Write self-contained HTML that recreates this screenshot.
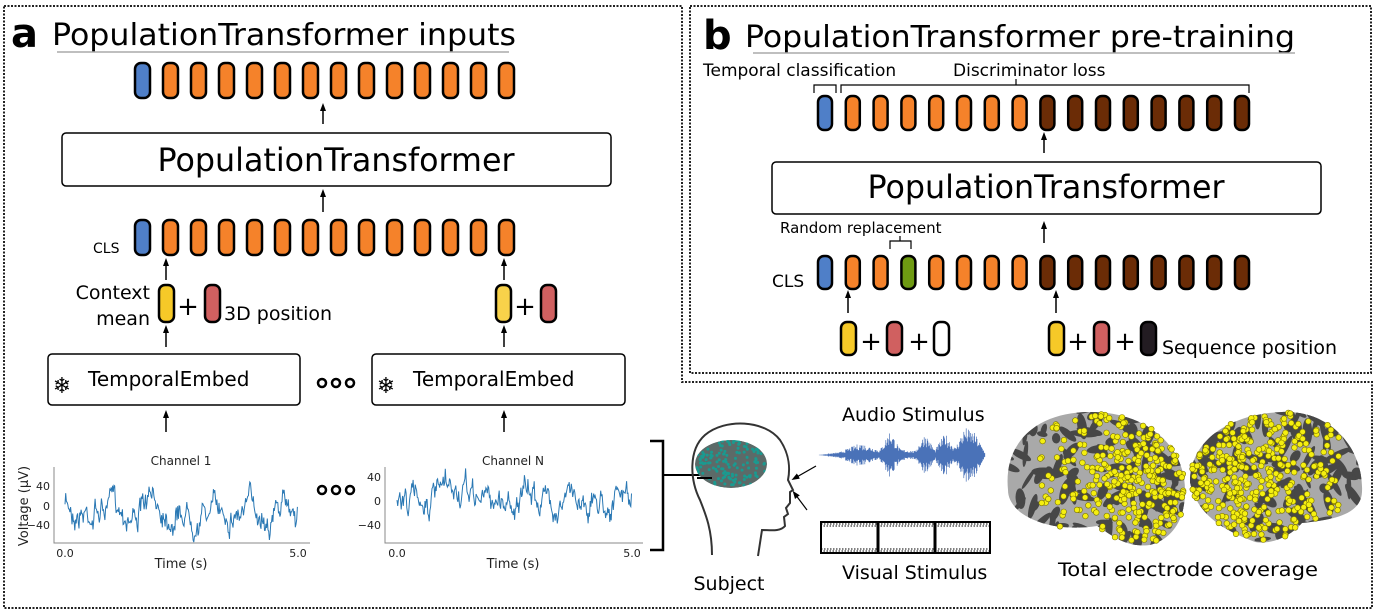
<!DOCTYPE html>
<html><head><meta charset="utf-8"><style>
html,body{margin:0;padding:0;background:#fff;}
svg{display:block;font-family:"DejaVu Sans","Liberation Sans",sans-serif;}
</style></head><body>
<svg id="s" width="1376" height="613" viewBox="0 0 1376 613" xmlns="http://www.w3.org/2000/svg">
<defs>
<marker id="ah" markerWidth="8" markerHeight="8" refX="4" refY="4" orient="auto" markerUnits="userSpaceOnUse">
<path d="M0,1 L8,4 L0,7 Z" fill="#000"/></marker>
<clipPath id="cb1"><path id="b1p" d="M1008,490 C1003,440 1040,411 1092,412 C1145,412 1186,445 1185,492 C1185,522 1170,540 1150,545 C1125,548 1112,535 1097,526 C1070,530 1040,527 1020,512 C1012,505 1008,498 1008,490 Z"/></clipPath>
<clipPath id="cb2"><path id="b2p" d="M1190,482 C1190,440 1230,414 1282,412 C1332,410 1364,450 1362,492 C1361,515 1332,520 1302,523 C1290,537 1270,545 1255,542 C1238,535 1198,522 1190,482 Z"/></clipPath>
<clipPath id="cbr"><ellipse cx="731" cy="464" rx="36" ry="24"/></clipPath>
</defs>
<g fill="none" stroke="#222" stroke-width="2" stroke-dasharray="2,1.5">
<path d="M4,6 H682 V382 H1372 V608 H4 Z"/>
<path d="M690,6 H1371 V373 H690 Z"/>
</g>

<!-- panel a -->
<text x="11" y="47" font-size="40" font-weight="bold">a</text>
<text x="52" y="45" font-size="30" textLength="464" lengthAdjust="spacingAndGlyphs">PopulationTransformer inputs</text>
<line x1="57" y1="52" x2="509" y2="52" stroke="#aaa" stroke-width="1.5"/>
<g id="aTop"></g>
<line x1="323" y1="124" x2="323" y2="107" stroke="#000" stroke-width="1.5" marker-end="url(#ah)"/>
<rect x="62" y="133" width="549" height="53" rx="4" fill="#fff" stroke="#000" stroke-width="1.5"/>
<text x="336" y="171" font-size="32" text-anchor="middle" textLength="357" lengthAdjust="spacingAndGlyphs">PopulationTransformer</text>
<line x1="323" y1="212" x2="323" y2="193" stroke="#000" stroke-width="1.5" marker-end="url(#ah)"/>
<text x="93" y="253" font-size="14">CLS</text>
<line x1="166" y1="280" x2="166" y2="262" stroke="#000" stroke-width="1.5" marker-end="url(#ah)"/>
<line x1="504" y1="280" x2="504" y2="262" stroke="#000" stroke-width="1.5" marker-end="url(#ah)"/>
<text x="150" y="299" font-size="19" text-anchor="end">Context</text>
<text x="150" y="325" font-size="19" text-anchor="end">mean</text>
<rect x="159" y="285" width="15" height="37" rx="6" fill="#f6c928" stroke="#000" stroke-width="2.5"/>
<text x="188" y="315" font-size="26" text-anchor="middle">+</text>
<rect x="205" y="285" width="15" height="37" rx="6" fill="#d06060" stroke="#000" stroke-width="2.5"/>
<text x="224" y="320" font-size="19">3D position</text>
<rect x="496" y="285" width="15" height="37" rx="6" fill="#f8d24a" stroke="#000" stroke-width="2.5"/>
<text x="525" y="315" font-size="26" text-anchor="middle">+</text>
<rect x="541" y="285" width="15" height="37" rx="6" fill="#d06060" stroke="#000" stroke-width="2.5"/>
<line x1="166" y1="347" x2="166" y2="329" stroke="#000" stroke-width="1.5" marker-end="url(#ah)"/>
<line x1="504" y1="347" x2="504" y2="329" stroke="#000" stroke-width="1.5" marker-end="url(#ah)"/>
<rect x="48" y="354" width="252" height="51" rx="4" fill="#fff" stroke="#000" stroke-width="1.5"/>
<rect x="372" y="354" width="253" height="51" rx="4" fill="#fff" stroke="#000" stroke-width="1.5"/>
<text x="88" y="386" font-size="20">TemporalEmbed</text>
<text x="413" y="386" font-size="20">TemporalEmbed</text>
<text x="62" y="393" font-size="22" text-anchor="middle">❄</text>
<text x="386" y="393" font-size="22" text-anchor="middle">❄</text>
<g fill="none" stroke="#000" stroke-width="2.5">
<circle cx="322" cy="383" r="4"/><circle cx="336" cy="383" r="4"/><circle cx="350" cy="383" r="4"/>
<circle cx="322" cy="490" r="4"/><circle cx="336" cy="490" r="4"/><circle cx="350" cy="490" r="4"/>
</g>
<line x1="166" y1="432" x2="166" y2="414" stroke="#000" stroke-width="1.5" marker-end="url(#ah)"/>
<line x1="504" y1="432" x2="504" y2="414" stroke="#000" stroke-width="1.5" marker-end="url(#ah)"/>

<!-- plots -->
<g font-size="11" fill="#222">
<text x="181" y="465" font-size="12" text-anchor="middle">Channel 1</text>
<path d="M54,467 V543 H310" fill="none" stroke="#888" stroke-width="1"/>
<text x="50" y="490" text-anchor="end">40</text><text x="50" y="510" text-anchor="end">0</text><text x="50" y="529" text-anchor="end">−40</text>
<text x="65" y="557" text-anchor="middle">0.0</text><text x="298" y="557" text-anchor="middle">5.0</text>
<text x="181" y="568" font-size="13" text-anchor="middle">Time (s)</text>
<text transform="translate(28,506) rotate(-90)" font-size="13" text-anchor="middle">Voltage (μV)</text>
<text x="513" y="465" font-size="12" text-anchor="middle">Channel N</text>
<path d="M385,467 V543 H643" fill="none" stroke="#888" stroke-width="1"/>
<text x="381" y="481" text-anchor="end">40</text><text x="381" y="505" text-anchor="end">0</text><text x="381" y="529" text-anchor="end">−40</text>
<text x="397" y="557" text-anchor="middle">0.0</text><text x="632" y="557" text-anchor="middle">5.0</text>
<text x="513" y="568" font-size="13" text-anchor="middle">Time (s)</text>
</g>
<g id="waves"></g>
<path d="M650,441 H663 V550 H650" fill="none" stroke="#000" stroke-width="2.5"/>
<line x1="663" y1="475" x2="705" y2="475" stroke="#000" stroke-width="2"/>

<!-- subject -->
<g clip-path="url(#cbr)"><ellipse cx="731" cy="464" rx="36" ry="24" fill="#5c6a68"/><g id="brainsm"></g></g>
<path d="M712,555 C712,530 706,515 700,500 C690,480 688,450 705,435 C725,418 765,420 780,440 C790,455 790,470 788,480 L793,490 L790,492 L790,503 L786,508 L788,514 L784,517 L785,526 C780,532 770,530 762,530 L758,556" fill="none" stroke="#333" stroke-width="2"/>
<line x1="712" y1="478" x2="697" y2="478" stroke="#000" stroke-width="2"/>
<text x="729" y="590" font-size="19" text-anchor="middle">Subject</text>
<line x1="816" y1="466" x2="795" y2="478" stroke="#000" stroke-width="1.2" marker-end="url(#ah)"/>
<line x1="807" y1="510" x2="795" y2="494" stroke="#000" stroke-width="1.2" marker-end="url(#ah)"/>
<text x="842" y="421" font-size="19">Audio Stimulus</text>
<g id="audio"></g>
<rect x="821" y="522" width="169" height="31" fill="#fff" stroke="#000" stroke-width="2"/>
<rect x="821" y="524" width="169" height="2" fill="none" stroke="#000" stroke-dasharray="1.5,1.5"/>
<rect x="821" y="549" width="169" height="2" fill="none" stroke="#000" stroke-dasharray="1.5,1.5"/>
<line x1="878" y1="522" x2="878" y2="553" stroke="#000" stroke-width="3"/>
<line x1="935" y1="522" x2="935" y2="553" stroke="#000" stroke-width="3"/>
<text x="842" y="579" font-size="19">Visual Stimulus</text>

<!-- brains -->
<use href="#b1p" fill="#a9a9a9"/>
<use href="#b2p" fill="#a9a9a9"/>
<g clip-path="url(#cb1)" id="p1"></g>
<g clip-path="url(#cb2)" id="p2"></g>
<g id="dots"></g>
<text x="1058" y="576" font-size="19" textLength="260" lengthAdjust="spacingAndGlyphs">Total electrode coverage</text>

<!-- panel b -->
<text x="703" y="49" font-size="40" font-weight="bold">b</text>
<text x="745" y="47" font-size="30" textLength="550" lengthAdjust="spacingAndGlyphs">PopulationTransformer pre-training</text>
<line x1="753" y1="53" x2="1295" y2="53" stroke="#aaa" stroke-width="1.5"/>
<text x="703" y="76" font-size="17">Temporal classification</text>
<text x="953" y="76" font-size="17">Discriminator loss</text>
<path d="M814,93 V85 H836 V93" fill="none" stroke="#000" stroke-width="1.2"/>
<path d="M841,93 V85 H1249 V93 M1016,85 V79" fill="none" stroke="#000" stroke-width="1.2"/>
<g id="bTop"></g>
<line x1="1044" y1="153" x2="1044" y2="136" stroke="#000" stroke-width="1.5" marker-end="url(#ah)"/>
<rect x="772" y="162" width="549" height="52" rx="4" fill="#fff" stroke="#000" stroke-width="1.5"/>
<text x="1046" y="198" font-size="32" text-anchor="middle" textLength="357" lengthAdjust="spacingAndGlyphs">PopulationTransformer</text>
<text x="780" y="233" font-size="15">Random replacement</text>
<path d="M890,249 V241 H911 V249 M900,241 V236" fill="none" stroke="#000" stroke-width="1.2"/>
<line x1="1044" y1="243" x2="1044" y2="225" stroke="#000" stroke-width="1.5" marker-end="url(#ah)"/>
<text x="772" y="287" font-size="17">CLS</text>
<g id="bBot"></g>
<line x1="848" y1="313" x2="848" y2="294" stroke="#000" stroke-width="1.5" marker-end="url(#ah)"/>
<line x1="1056" y1="313" x2="1056" y2="294" stroke="#000" stroke-width="1.5" marker-end="url(#ah)"/>
<rect x="841" y="322" width="15" height="33" rx="6" fill="#f6c928" stroke="#000" stroke-width="2.5"/>
<text x="871" y="350" font-size="26" text-anchor="middle">+</text>
<rect x="887" y="322" width="15" height="33" rx="6" fill="#d06060" stroke="#000" stroke-width="2.5"/>
<text x="919" y="350" font-size="26" text-anchor="middle">+</text>
<rect x="934" y="322" width="15" height="33" rx="6" fill="#fff" stroke="#000" stroke-width="2.5"/>
<rect x="1049" y="322" width="15" height="33" rx="6" fill="#f6c928" stroke="#000" stroke-width="2.5"/>
<text x="1078" y="350" font-size="26" text-anchor="middle">+</text>
<rect x="1094" y="322" width="15" height="33" rx="6" fill="#d06060" stroke="#000" stroke-width="2.5"/>
<text x="1125" y="350" font-size="26" text-anchor="middle">+</text>
<rect x="1141" y="322" width="15" height="33" rx="6" fill="#231c22" stroke="#000" stroke-width="2.5"/>
<text x="1162" y="354" font-size="19">Sequence position</text>
</svg>
<script>
var NS="http://www.w3.org/2000/svg";
var seed=7;function rnd(){seed=(seed*16807)%2147483647;return (seed-1)/2147483646;}
function el(p,t,a){var e=document.createElementNS(NS,t);for(var k in a)e.setAttribute(k,a[k]);document.getElementById(p).appendChild(e);return e;}
var OR="#f5822a",BL="#4f7fc8",BR="#6b2c06",GR="#6e9a12";
function tok(g,x,y,w,h,c){el(g,"rect",{x:x,y:y,width:w,height:h,rx:6,fill:c,stroke:"#000","stroke-width":2.5});}
for(var i=0;i<14;i++){tok("aTop",135+i*28,63,15,35,i?OR:BL);}
var s=document.getElementById("s");
var g=document.createElementNS(NS,"g");g.id="aMid";s.appendChild(g);
for(var i=0;i<14;i++){tok("aMid",135+i*28,220,15,35,i?OR:BL);}
for(var i=0;i<16;i++){var c=i==0?BL:(i<8?OR:BR);tok("bTop",818+i*27.8,96,14,34,c);}
for(var i=0;i<16;i++){var c=i==0?BL:(i==3?GR:(i<8?OR:BR));tok("bBot",818+i*27.8,256,14,33,c);}
function wave(x0,x1,y0,sc){var d="",v=0;for(var x=x0;x<=x1;x+=0.7){v=v*0.9+(rnd()-0.5)*12;var y=y0+v*sc+(rnd()-0.5)*12;d+=(d?"L":"M")+x.toFixed(1)+","+y.toFixed(1);}el("waves","path",{d:d,fill:"none",stroke:"#2a78b4","stroke-width":1});}
wave(65,298,507,1.3);wave(397,632,498,1.3);
var d="";var env=[[818,0],[840,3],[860,12],[880,5],[890,25],[900,6],[915,4],[925,22],[935,5],[945,22],[955,7],[965,28],[975,22],[985,3]];
function envAt(x){for(var i=0;i<env.length-1;i++){if(x>=env[i][0]&&x<=env[i+1][0]){var t=(x-env[i][0])/(env[i+1][0]-env[i][0]);return env[i][1]*(1-t)+env[i+1][1]*t;}}return 0;}
for(var x=818;x<=985;x+=0.6){var a=envAt(x)*(0.4+0.6*rnd());d+="M"+x.toFixed(1)+","+(455-a).toFixed(1)+"V"+(455+a).toFixed(1);}
el("audio","path",{d:d,stroke:"#4a72b8","stroke-width":0.7,fill:"none"});
function patches(g,x0,x1,y0,y1,n){for(var i=0;i<n;i++){var cx=x0+rnd()*(x1-x0),cy=y0+rnd()*(y1-y0);el(g,"ellipse",{cx:cx,cy:cy,rx:5+rnd()*10,ry:2+rnd()*3,transform:"rotate("+(rnd()*180-90)+" "+cx+" "+cy+")",fill:"#474747"});}}
patches("p1",1005,1188,408,550,130);patches("p2",1186,1365,408,548,130);
for(var i=0;i<160;i++){var cx=695+rnd()*72,cy=440+rnd()*48;el("brainsm","circle",{cx:cx,cy:cy,r:1.5,fill:"#1a9a90"});}
function inside(id,x,y){var p=document.getElementById(id);return p.isPointInFill?p.isPointInFill(new DOMPoint(x,y)):true;}
function dots(n,fx){for(var i=0;i<n;i++){var p=fx();el("dots","circle",{cx:p[0].toFixed(1),cy:p[1].toFixed(1),r:2.8,fill:"#f5ef10",stroke:"#7a7200","stroke-width":0.6});}}
dots(320,function(){var x,y;do{x=1040+rnd()*145;y=412+rnd()*135;}while(!inside("b1p",x,y)||rnd()>(x-1040)/145+0.2);return[x,y];});
dots(380,function(){var x,y;do{x=1190+rnd()*150;y=412+rnd()*130;}while(!inside("b2p",x,y)||rnd()>(1340-x)/150+0.2);return[x,y];});
</script>
</body></html>
